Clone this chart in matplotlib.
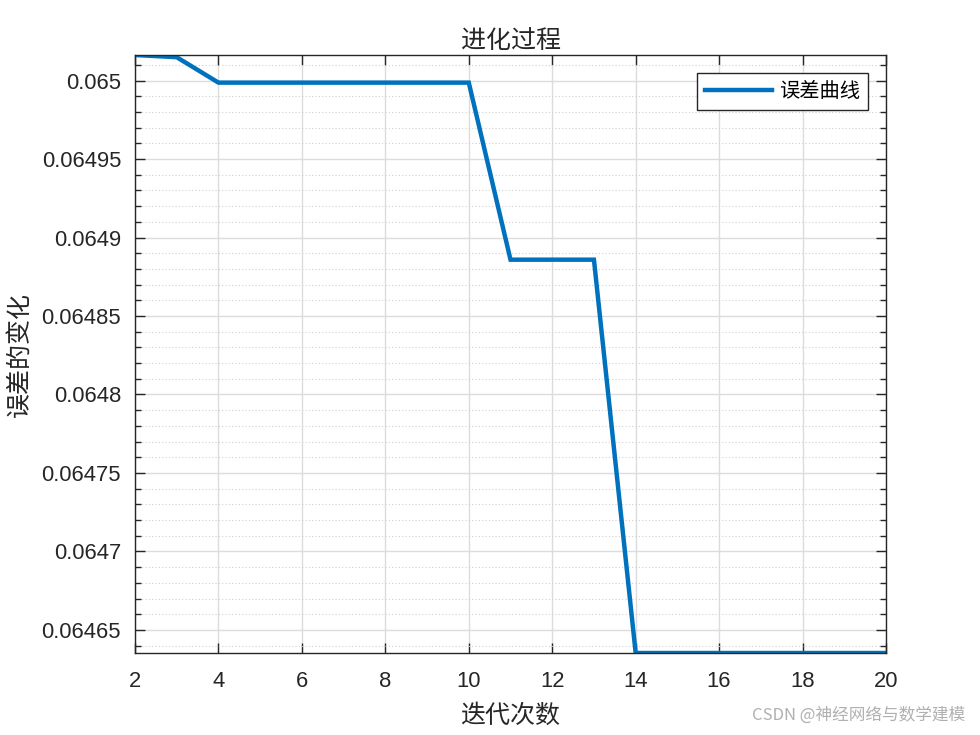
import matplotlib
matplotlib.use("Agg")
import matplotlib.pyplot as plt
from matplotlib.ticker import MultipleLocator

iterations = [2, 3, 4, 5, 6, 7, 8, 9, 10, 11, 12, 13, 14, 15, 16, 17, 18, 19, 20]
errors = [0.0650163, 0.0650149, 0.0649987, 0.0649987, 0.0649987, 0.0649987, 0.0649987,
          0.0649987, 0.0649987, 0.0648859, 0.0648859, 0.0648859, 0.0646353, 0.0646353,
          0.0646353, 0.0646353, 0.0646353, 0.0646353, 0.0646353]
x_ticks = [2, 4, 6, 8, 10, 12, 14, 16, 18, 20]
y_ticks = [0.06465, 0.0647, 0.06475, 0.0648, 0.06485, 0.0649, 0.06495, 0.065]
y_tick_labels = ["0.06465", "0.0647", "0.06475", "0.0648", "0.06485", "0.0649", "0.06495", "0.065"]

cjk = ['Noto Sans CJK SC', 'DejaVu Sans']
num_font = ['Liberation Sans', 'DejaVu Sans']

fig = plt.figure(figsize=(9.8, 7.35), dpi=100)
ax = fig.add_axes([135/980, 1 - 653/735, (886-135)/980, (653-55)/735])

ax.plot(iterations, errors, color='#0072BD', linewidth=3.2, label='误差曲线', solid_joinstyle='miter')
ax.set_xlim(min(iterations), max(iterations))
ax.set_ylim(min(errors), max(errors))

ax.set_xticks(x_ticks)
ax.set_xticklabels([str(v) for v in x_ticks], fontfamily=num_font, fontsize=15.8, color='#262626')
ax.set_yticks(y_ticks)
ax.set_yticklabels(y_tick_labels, fontfamily=num_font, fontsize=15.8, color='#262626')
ax.xaxis.set_minor_locator(MultipleLocator(0.5))
ax.yaxis.set_minor_locator(MultipleLocator(0.00001))

ax.tick_params(which='both', direction='in', top=True, right=True, color='#262626', width=1)
ax.tick_params(which='major', length=7)
ax.tick_params(axis='x', which='major', pad=13)
ax.tick_params(axis='y', which='major', pad=10)
ax.tick_params(which='minor', length=4)
ax.tick_params(axis='x', which='minor', length=0)

ax.grid(which='major', color='#dcdcdc', linewidth=1, linestyle='-')
ax.grid(which='minor', axis='y', color='#d0d0d0', linewidth=0.8, linestyle=(0, (1, 2)))
ax.set_axisbelow(True)
for s in ax.spines.values():
    s.set_color('#262626')
    s.set_linewidth(1)

ax.set_title('进化过程', fontfamily=cjk, fontsize=18, color='#262626', pad=5)
ax.set_xlabel('迭代次数', fontfamily=cjk, fontsize=18, color='#262626', labelpad=8)
ax.set_ylabel('误差的变化', fontfamily=cjk, fontsize=18, color='#262626', labelpad=6)

leg = ax.legend(loc='upper right', bbox_to_anchor=(1 - 18/751, 1 - 18/598),
                prop={'family': cjk, 'size': 14.6},
                fancybox=False, framealpha=1, edgecolor='#262626', handlelength=3.3,
                borderpad=0.4, handletextpad=0.35, borderaxespad=0)
leg.get_frame().set_linewidth(1)

fig.text(0.985, 0.015, 'CSDN @神经网络与数学建模', fontfamily=cjk, fontsize=12,
         color='#b0b0b0', ha='right', va='bottom')

fig.savefig('out.png', dpi=100)
